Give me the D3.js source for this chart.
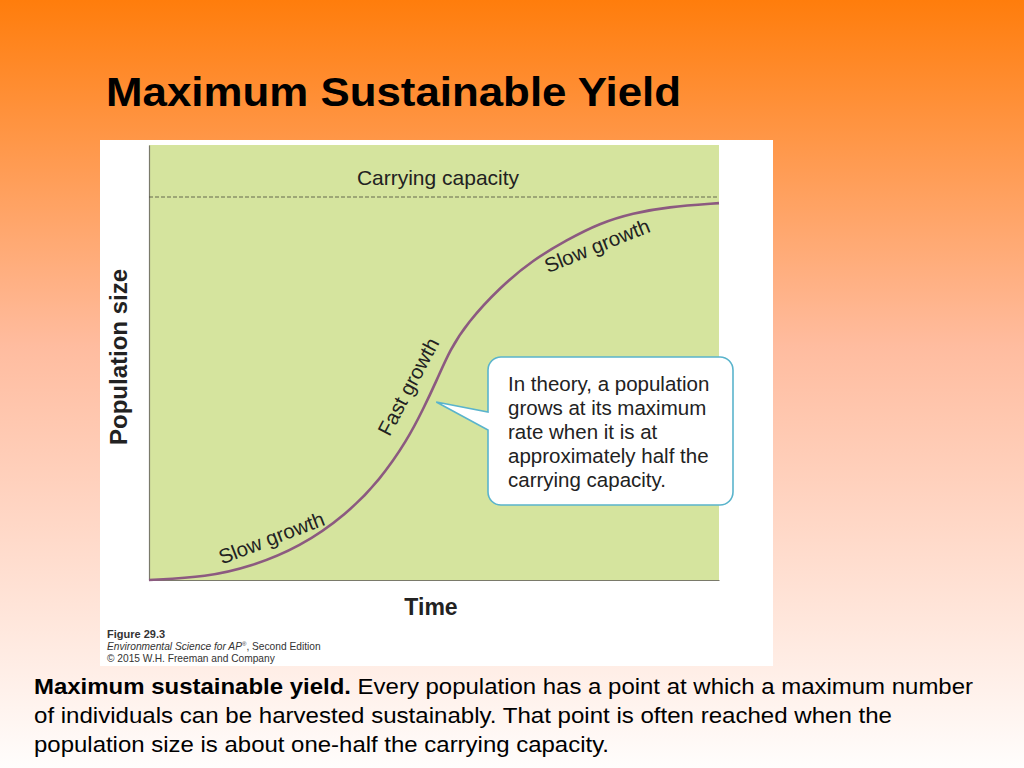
<!DOCTYPE html>
<html>
<head>
<meta charset="utf-8">
<script src="https://cdnjs.cloudflare.com/ajax/libs/d3/7.8.5/d3.min.js"></script>
<style>
  body { margin: 0; overflow: hidden; }
  svg { display: block; font-family: "Liberation Sans", Arial, sans-serif; }
</style>
</head>
<body>
<script>
// logistic curve (time 0-100, population as % of carrying capacity)
const timeValues = [0, 10.2, 17.7, 26.5, 34.7, 40.5, 45.3, 48.1, 50.5, 52.8, 55.8, 61.6, 67.4, 73.3, 79.1, 84.9, 90.9, 100];
const popValues  = [0, 0.8, 3.4, 8.6, 17.2, 26.1, 36.5, 44.6, 52.2, 60.1, 67.1, 76.5, 83.6, 88.8, 93.2, 95.8, 97.4, 98.4];
const carryingCapacity = 100;

// curve labels: [time, pop, text, angle]
const curveLabels = [
  [21.5, 11.0, 'Slow growth', -21],
  [45.5, 50.5, 'Fast growth', -62],
  [78.6, 87.3, 'Slow growth', -22]
];
const calloutLines = [
  'In theory, a population',
  'grows at its maximum',
  'rate when it is at',
  'approximately half the',
  'carrying capacity.'
];
// [bold part, regular part, drawn width]
const captionLines = [
  ['Maximum sustainable yield.', ' Every population has a point at which a maximum number', 939],
  ['', 'of individuals can be harvested sustainably. That point is often reached when the', 858],
  ['', 'population size is about one-half the carrying capacity.', 575]
];

const W = 1024, H = 768;
const svg = d3.select('body').append('svg').attr('width', W).attr('height', H);

// background
const defs = svg.append('defs');
const grad = defs.append('linearGradient').attr('id', 'bg')
  .attr('x1', 0).attr('y1', 0).attr('x2', 0).attr('y2', 1);
grad.append('stop').attr('offset', '0%').attr('stop-color', '#ff7d0c');
grad.append('stop').attr('offset', '45%').attr('stop-color', '#ffbc9f');
grad.append('stop').attr('offset', '100%').attr('stop-color', '#fffdfc');
svg.append('rect').attr('width', W).attr('height', H).attr('fill', 'url(#bg)');

svg.append('text').attr('x', 106).attr('y', 106)
  .attr('font-size', 41).attr('font-weight', 'bold').attr('fill', '#000')
  .attr('textLength', 575).attr('lengthAdjust', 'spacingAndGlyphs')
  .text('Maximum Sustainable Yield');

// white figure panel
svg.append('rect').attr('x', 100).attr('y', 140).attr('width', 673).attr('height', 526).attr('fill', '#fff');

const plot = {left: 149, right: 719, top: 145, bottom: 580};
const x = d3.scaleLinear().domain([0, 100]).range([plot.left, plot.right]);
const y = d3.scaleLinear().domain([0, 100]).range([plot.bottom, 197]);

svg.append('rect').attr('x', plot.left).attr('y', plot.top)
  .attr('width', plot.right - plot.left).attr('height', plot.bottom - plot.top)
  .attr('fill', '#d5e49e');

// axes as plain lines, no ticks
svg.append('g').attr('transform', `translate(0,${plot.bottom})`)
  .call(d3.axisBottom(x).ticks(0).tickSizeOuter(0))
  .call(g => g.select('.domain').attr('stroke', '#7a7a6a').attr('stroke-width', 1.2));
svg.append('g').attr('transform', `translate(${plot.left},0)`)
  .call(d3.axisLeft(d3.scaleLinear().range([plot.bottom, plot.top])).ticks(0).tickSizeOuter(0))
  .call(g => g.select('.domain').attr('stroke', '#7a7a6a').attr('stroke-width', 1.2));

// carrying capacity
svg.append('line').attr('x1', plot.left).attr('x2', plot.right)
  .attr('y1', y(carryingCapacity)).attr('y2', y(carryingCapacity))
  .attr('stroke', '#4a4a3a').attr('stroke-width', 0.8).attr('stroke-dasharray', '4,2');
svg.append('text').attr('x', 438).attr('y', 185)
  .attr('text-anchor', 'middle').attr('font-size', 21).attr('fill', '#222')
  .text('Carrying capacity');

// the curve
const pts = timeValues.map((t, i) => [t, popValues[i]]);
const line = d3.line().x(d => x(d[0])).y(d => y(d[1])).curve(d3.curveBasis);
svg.append('path').datum(pts).attr('d', line)
  .attr('fill', 'none').attr('stroke', '#8c5a80').attr('stroke-width', 2.6);

svg.append('g').selectAll('text').data(curveLabels).join('text')
  .attr('transform', d => `translate(${x(d[0])},${y(d[1])}) rotate(${d[3]})`)
  .attr('text-anchor', 'middle').attr('dy', '0.35em')
  .attr('font-size', 20.5).attr('fill', '#222')
  .text(d => d[2]);

// axis titles
svg.append('text').attr('transform', 'translate(127,357) rotate(-90)')
  .attr('text-anchor', 'middle').attr('font-size', 24).attr('font-weight', 'bold').attr('fill', '#222')
  .text('Population size');
svg.append('text').attr('x', 431).attr('y', 615)
  .attr('text-anchor', 'middle').attr('font-size', 23).attr('font-weight', 'bold').attr('fill', '#222')
  .text('Time');

// callout with pointer
const bx = 488, by = 357, bw = 245, bh = 148, r = 13;
const tip = [x(50.4), 402];
const callout = d3.path();
callout.moveTo(bx + r, by);
callout.lineTo(bx + bw - r, by);
callout.arcTo(bx + bw, by, bx + bw, by + r, r);
callout.lineTo(bx + bw, by + bh - r);
callout.arcTo(bx + bw, by + bh, bx + bw - r, by + bh, r);
callout.lineTo(bx + r, by + bh);
callout.arcTo(bx, by + bh, bx, by + bh - r, r);
callout.lineTo(bx, 430);
callout.lineTo(tip[0], tip[1]);
callout.lineTo(bx, 412);
callout.lineTo(bx, by + r);
callout.arcTo(bx, by, bx + r, by, r);
callout.closePath();
svg.append('path').attr('d', callout.toString())
  .attr('fill', '#fff').attr('stroke', '#5ab4cc').attr('stroke-width', 1.6);

svg.append('g').selectAll('text').data(calloutLines).join('text')
  .attr('x', 508).attr('y', (d, i) => 391 + i * 24)
  .attr('font-size', 20.5).attr('fill', '#222')
  .text(d => d);

// figure credit
const credit = svg.append('g').attr('font-size', 10.2).attr('fill', '#333');
credit.append('text').attr('x', 107).attr('y', 638).attr('font-weight', 'bold').attr('font-size', 11).text('Figure 29.3');
const c2 = credit.append('text').attr('x', 107).attr('y', 650);
c2.append('tspan').attr('font-style', 'italic').text('Environmental Science for AP');
c2.append('tspan').attr('font-size', 6).attr('dy', -4).text('®');
c2.append('tspan').attr('dy', 4).text(', Second Edition');
credit.append('text').attr('x', 107).attr('y', 662).text('© 2015 W.H. Freeman and Company');

// caption
const cap = svg.append('g').attr('font-size', 22).attr('fill', '#000');
captionLines.forEach((ln, i) => {
  const t = cap.append('text').attr('x', 34).attr('y', 694 + i * 29)
    .attr('textLength', ln[2]).attr('lengthAdjust', 'spacingAndGlyphs');
  if (ln[0]) t.append('tspan').attr('font-weight', 'bold').text(ln[0]);
  t.append('tspan').text(ln[1]);
});
</script>
</body>
</html>
